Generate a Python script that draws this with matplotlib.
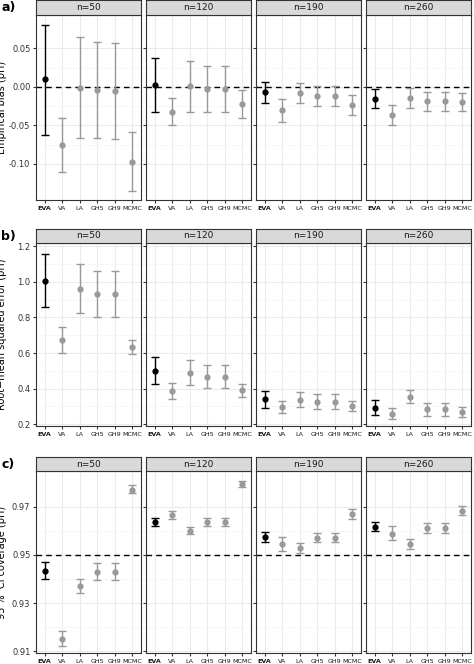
import matplotlib
matplotlib.use("Agg")
import matplotlib.pyplot as plt
import numpy as np

methods = ["EVA", "VA", "LA", "GH5", "GH9", "MCMC"]
sizes = ["n=50", "n=120", "n=190", "n=260"]

bias_est = [[0.010, -0.075, -0.001, -0.004, -0.005, -0.097],
            [0.003, -0.032, 0.001, -0.003, -0.003, -0.022],
            [-0.007, -0.030, -0.008, -0.012, -0.012, -0.024],
            [-0.016, -0.037, -0.014, -0.018, -0.018, -0.020]]
bias_lo = [[-0.062, -0.110, -0.067, -0.067, -0.068, -0.135],
           [-0.032, -0.049, -0.032, -0.033, -0.033, -0.040],
           [-0.021, -0.045, -0.021, -0.025, -0.025, -0.037],
           [-0.028, -0.050, -0.027, -0.031, -0.031, -0.031]]
bias_hi = [[0.081, -0.040, 0.065, 0.058, 0.057, -0.058],
           [0.037, -0.015, 0.034, 0.027, 0.027, -0.004],
           [0.006, -0.016, 0.005, 0.001, 0.001, -0.011],
           [-0.003, -0.023, -0.002, -0.006, -0.006, -0.008]]

rmse_est = [[1.005, 0.673, 0.960, 0.930, 0.930, 0.632],
            [0.500, 0.387, 0.487, 0.467, 0.467, 0.390],
            [0.340, 0.295, 0.338, 0.325, 0.325, 0.302],
            [0.292, 0.260, 0.355, 0.283, 0.283, 0.268]]
rmse_lo = [[0.857, 0.600, 0.825, 0.802, 0.802, 0.592],
           [0.428, 0.342, 0.418, 0.405, 0.405, 0.355],
           [0.292, 0.262, 0.297, 0.285, 0.285, 0.275],
           [0.253, 0.232, 0.318, 0.248, 0.248, 0.242]]
rmse_hi = [[1.155, 0.748, 1.100, 1.062, 1.063, 0.672],
           [0.578, 0.432, 0.558, 0.532, 0.532, 0.428],
           [0.388, 0.330, 0.382, 0.367, 0.367, 0.333],
           [0.335, 0.290, 0.393, 0.320, 0.320, 0.296]]

cov_est = [[0.9435, 0.9150, 0.9370, 0.9430, 0.9430, 0.9768],
           [0.9637, 0.9665, 0.9600, 0.9638, 0.9638, 0.9792],
           [0.9573, 0.9545, 0.9527, 0.9572, 0.9572, 0.9668],
           [0.9615, 0.9588, 0.9545, 0.9613, 0.9613, 0.9683]]
cov_lo = [[0.9400, 0.9120, 0.9340, 0.9395, 0.9395, 0.9755],
          [0.9620, 0.9648, 0.9587, 0.9620, 0.9620, 0.9780],
          [0.9555, 0.9518, 0.9508, 0.9553, 0.9553, 0.9650],
          [0.9598, 0.9560, 0.9523, 0.9590, 0.9590, 0.9665]]
cov_hi = [[0.9470, 0.9185, 0.9400, 0.9465, 0.9465, 0.9790],
          [0.9655, 0.9683, 0.9617, 0.9655, 0.9655, 0.9805],
          [0.9595, 0.9573, 0.9548, 0.9590, 0.9590, 0.9690],
          [0.9635, 0.9620, 0.9565, 0.9633, 0.9633, 0.9703]]

W, H = 474, 664
fig = plt.figure(figsize=(W/100, H/100), dpi=100)

rows = [
    dict(tag="a)", ylabel="Empirical bias (pH)", est=bias_est, lo=bias_lo, hi=bias_hi,
         ylim=(-0.147, 0.0935), ticks=[-0.10, -0.05, 0.00, 0.05], fmt="{:.2f}", ref=0.0,
         strip_top=0, plot_top=15, plot_bot=200),
    dict(tag="b)", ylabel="Root\u2212mean squared error (pH)", est=rmse_est, lo=rmse_lo, hi=rmse_hi,
         ylim=(0.19, 1.218), ticks=[0.2, 0.4, 0.6, 0.8, 1.0, 1.2], fmt="{:.1f}", ref=None,
         strip_top=229, plot_top=243, plot_bot=426),
    dict(tag="c)", ylabel="95 %  CI coverage (pH)", est=cov_est, lo=cov_lo, hi=cov_hi,
         ylim=(0.9093, 0.9848), ticks=[0.91, 0.93, 0.95, 0.97], fmt="{:.2f}", ref=0.95,
         strip_top=457, plot_top=471, plot_bot=653),
]
lefts = [36, 146, 256, 366]
pw = 105
x = np.arange(len(methods))
cols = ["black"] + ["#999999"] * 5

for r in rows:
    for j, s in enumerate(sizes):
        l = lefts[j]
        ax = fig.add_axes([l/W, 1 - r["plot_bot"]/H, pw/W, (r["plot_bot"] - r["plot_top"])/H])
        sax = fig.add_axes([l/W, 1 - r["plot_top"]/H, pw/W, (r["plot_top"] - r["strip_top"])/H])
        sax.set_xticks([]); sax.set_yticks([])
        sax.set_facecolor("#D9D9D9")
        for sp in sax.spines.values():
            sp.set_color("#333333"); sp.set_linewidth(0.8)
        sax.text(0.5, 0.5, s, ha="center", va="center", fontsize=6.5, color="#1A1A1A",
                 transform=sax.transAxes)
        e = np.array(r["est"][j]); lo = np.array(r["lo"][j]); hi = np.array(r["hi"][j])
        for k in range(len(methods)):
            ax.errorbar(x[k], e[k], yerr=[[e[k]-lo[k]], [hi[k]-e[k]]], fmt="o", color=cols[k],
                        ms=3.5, capsize=3, elinewidth=1.0, capthick=1.0, zorder=3)
        if r["ref"] is not None:
            ax.axhline(r["ref"], color="black", ls=(0, (4, 3)), lw=1, zorder=2)
        ax.set_xlim(-0.5, 5.5)
        ax.set_ylim(*r["ylim"])
        ax.set_yticks(r["ticks"])
        minor = [(a+b)/2 for a, b in zip(r["ticks"][:-1], r["ticks"][1:])]
        ax.set_yticks(minor, minor=True)
        ax.grid(True, which="major", color="#EBEBEB", lw=0.8)
        ax.grid(True, which="minor", axis="y", color="#F4F4F4", lw=0.5)
        ax.set_axisbelow(True)
        ax.set_xticks(x)
        ax.set_xticklabels(methods, fontsize=4.6, color="#1A1A1A")
        ax.get_xticklabels()[0].set_fontweight("bold")
        ax.tick_params(axis="both", length=2, color="#333333", pad=2)
        ax.tick_params(axis="y", which="minor", length=0)
        for sp in ax.spines.values():
            sp.set_color("#333333"); sp.set_linewidth(0.8)
        if j == 0:
            ax.set_yticklabels([r["fmt"].format(t) for t in r["ticks"]], fontsize=6, color="#333333")
            ax.set_ylabel(r["ylabel"], fontsize=7)
            ax.yaxis.set_label_coords(-29/pw, 0.5)
        else:
            ax.set_yticklabels([])
    fig.text(1/W, 1 - (r["strip_top"] + 1)/H, r["tag"], fontsize=9, fontweight="bold", va="top")

fig.savefig("out.png", dpi=100)
